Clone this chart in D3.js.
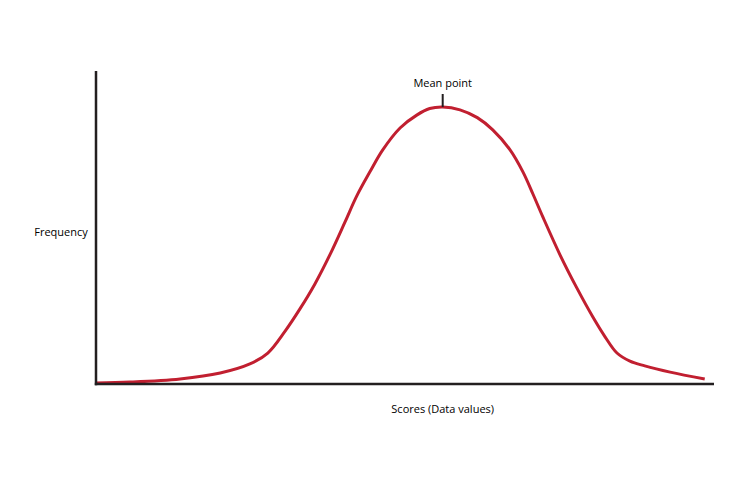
<!DOCTYPE html>
<html><head><meta charset="utf-8">
<script src="https://cdn.jsdelivr.net/npm/d3@7"></script>
<style>body{margin:0;background:#fff}svg text{font-family:"Open Sans",Lato,sans-serif;fill:#000}</style>
</head><body>
<script>
const scores = [0,5.5,13.6,20.1,24.9,27.8,30.6,33.0,35.4,37.9,40.3,42.2,44.3,46.4,49.2,51.9,54.0,56.1,58.9,61.7,64.2,67.0,69.1,70.7,72.3,75.1,77.8,80.4,82.4,84.3,86.4,88.8,92.9,98.5];
const frequency = [0.3,0.6,1.6,3.5,6.4,9.9,16.9,24.0,31.9,41.5,51.8,60.1,67.7,74.8,81.8,85.9,88.0,88.5,87.6,85.1,81.2,74.8,67.7,60.7,53.4,41.2,30.7,21.4,15.0,9.9,7.3,5.8,3.8,1.6];
const meanScore = 56.1, meanFreq = 88.5;
const labels = {mean:"Mean point", y:"Frequency", x:"Scores (Data values)"};

const W=750,H=500;
const svg=d3.select("body").append("svg").attr("width",W).attr("height",H);
const x=d3.scaleLinear().domain([0,100]).range([96,714]);
const y=d3.scaleLinear().domain([0,100]).range([384,71]);

const pts=scores.map((s,i)=>[s,frequency[i]]);
svg.append("path").datum(pts)
  .attr("d",d3.line().x(d=>x(d[0])).y(d=>y(d[1])).curve(d3.curveCatmullRom.alpha(0.5)))
  .attr("fill","none").attr("stroke","#c11f30").attr("stroke-width",3).attr("stroke-linecap","butt");

// axes
svg.append("line").attr("x1",x(0)).attr("x2",x(0)).attr("y1",y(100)).attr("y2",y(0)+1.2)
  .attr("stroke","#231f20").attr("stroke-width",2.5);
svg.append("line").attr("x1",x(0)-1.2).attr("x2",x(100)).attr("y1",y(0)).attr("y2",y(0))
  .attr("stroke","#231f20").attr("stroke-width",2.5);

// mean marker
svg.append("line").attr("x1",x(meanScore)).attr("x2",x(meanScore)).attr("y1",y(meanFreq)-13).attr("y2",y(meanFreq))
  .attr("stroke","#231f20").attr("stroke-width",2);
svg.append("text").attr("x",x(meanScore)).attr("y",y(meanFreq)-20).attr("text-anchor","middle")
  .attr("font-size",11).text(labels.mean);
svg.append("text").attr("x",61).attr("y",236).attr("text-anchor","middle").attr("font-size",11).text(labels.y);
svg.append("text").attr("x",x(56.1)).attr("y",413).attr("text-anchor","middle").attr("font-size",11).text(labels.x);
</script>
</body></html>
